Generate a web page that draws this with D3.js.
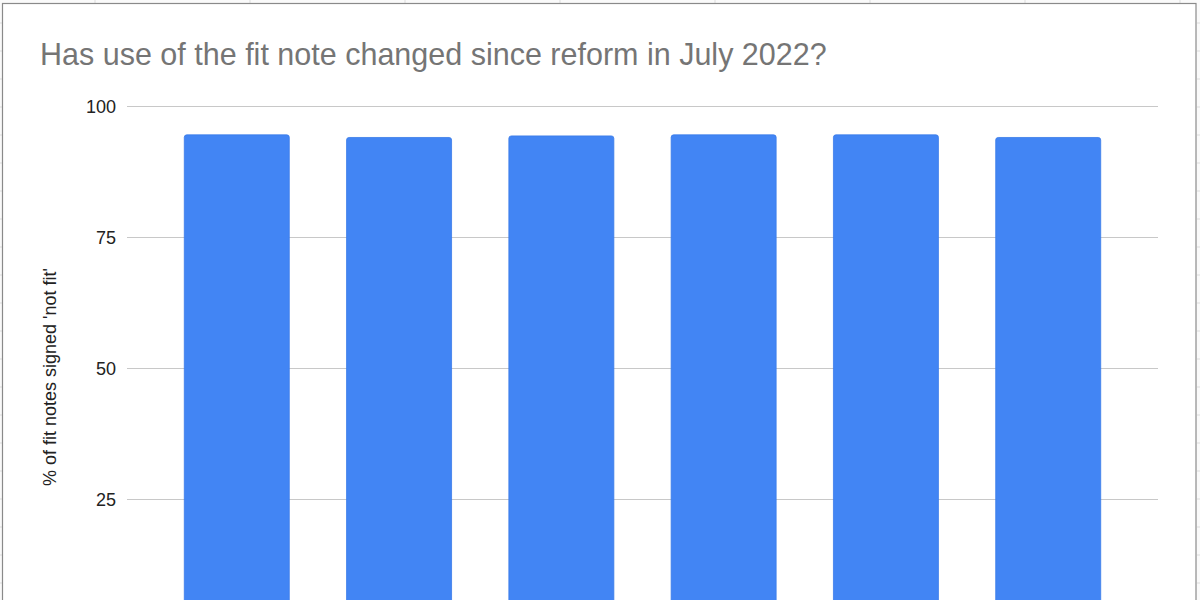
<!DOCTYPE html>
<html>
<head>
<meta charset="utf-8">
<script src="https://cdn.jsdelivr.net/npm/d3@7/dist/d3.min.js"></script>
<style>
  html, body { margin: 0; padding: 0; background: #fff; }
  svg { display: block; }
  text { font-family: Arial, "Liberation Sans", sans-serif; }
</style>
</head>
<body>
<svg id="chart" width="1200" height="600"></svg>
<script>
// ---- data ----
const title = "Has use of the fit note changed since reform in July 2022?";
const yAxisTitle = "% of fit notes signed 'not fit'";
const categories = ["P1", "P2", "P3", "P4", "P5", "P6"];
const notFitPct = [94.5, 94.0, 94.3, 94.5, 94.5, 94.0];
const yTicks = [25, 50, 75, 100];

// ---- layout ----
const W = 1200, H = 600;
const plot = { left: 127, right: 1158, top: 106, bottom: 630.5 };

const svg = d3.select("#chart");

// spreadsheet background outside the chart frame
const bg = svg.append("g");
bg.append("rect").attr("x", 0).attr("y", 0).attr("width", W).attr("height", H).attr("fill", "#fafafa");
const colLines = d3.range(95, W, 155);
bg.selectAll("line.col").data(colLines).join("line")
  .attr("x1", d => d).attr("x2", d => d).attr("y1", 0).attr("y2", 4)
  .attr("stroke", "#dcdcdc").attr("stroke-width", 1);
const rowLines = d3.range(23, H, 28);
bg.selectAll("line.rowL").data(rowLines).join("line")
  .attr("x1", 0).attr("x2", 2).attr("y1", d => d).attr("y2", d => d)
  .attr("stroke", "#dcdcdc");
bg.selectAll("line.rowR").data(rowLines).join("line")
  .attr("x1", 1197).attr("x2", W).attr("y1", d => d).attr("y2", d => d)
  .attr("stroke", "#dcdcdc");

// chart frame
svg.append("rect")
  .attr("x", 2.5).attr("y", 3.5).attr("width", 1193.5).attr("height", 620)
  .attr("fill", "#ffffff").attr("stroke", "#8a8a8a").attr("stroke-width", 1.2);

// scales
const x = d3.scaleBand().domain(categories).range([plot.left, plot.right]).padding(0.353);
const y = d3.scaleLinear().domain([0, 100]).range([plot.bottom, plot.top]);

// gridlines
svg.append("g").selectAll("line").data(yTicks).join("line")
  .attr("x1", plot.left).attr("x2", plot.right)
  .attr("y1", d => Math.round(y(d)) + 0.5).attr("y2", d => Math.round(y(d)) + 0.5)
  .attr("stroke", "#c8c8c8").attr("stroke-width", 1);

// y axis tick labels
const yAxis = d3.axisLeft(y).tickValues(yTicks).tickSize(0).tickPadding(0);
const gy = svg.append("g").attr("transform", `translate(${plot.left - 11},0)`).call(yAxis);
gy.select(".domain").remove();
gy.selectAll("text")
  .attr("font-size", 18).attr("fill", "#222")
  .attr("font-family", "Arial, 'Liberation Sans', sans-serif")
  .attr("dy", "0.36em");

// bars with slightly rounded top corners (they run past the bottom edge, as in the reference)
const r = 2.5;
function barPath(d, i) {
  const x0 = x(categories[i]), w = x.bandwidth();
  const yt = y(d), yb = y(0);
  return `M${x0},${yb} V${yt + r} Q${x0},${yt} ${x0 + r},${yt} H${x0 + w - r} Q${x0 + w},${yt} ${x0 + w},${yt + r} V${yb} Z`;
}
svg.append("g").selectAll("path").data(notFitPct).join("path")
  .attr("d", barPath)
  .attr("fill", "#4285f4")
  .attr("stroke", "#3a7be8").attr("stroke-width", 0.8);

// title
svg.append("text")
  .attr("x", 40).attr("y", 65)
  .attr("font-size", 30.5).attr("fill", "#757575")
  .text(title);

// y axis title
svg.append("text")
  .attr("transform", `translate(56,377) rotate(-90)`)
  .attr("text-anchor", "middle")
  .attr("font-size", 18).attr("fill", "#222")
  .text(yAxisTitle);
</script>
</body>
</html>
